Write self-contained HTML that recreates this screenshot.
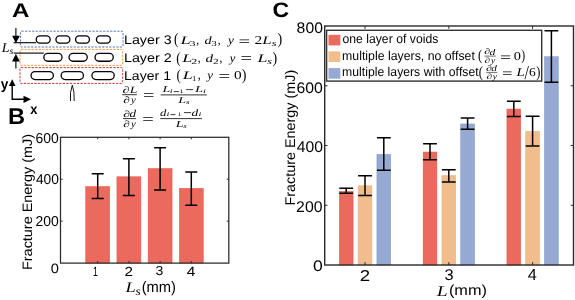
<!DOCTYPE html>
<html lang="en"><head><meta charset="utf-8"><title>Figure</title>
<style>
html,body{margin:0;padding:0;background:#fff;}
body{width:575px;height:300px;overflow:hidden;}
svg{display:block;}
text{white-space:pre;font-kerning:none;text-rendering:geometricPrecision;}
</style></head><body>
<svg width="575" height="300" viewBox="0 0 575 300">
<rect width="575" height="300" fill="#fff"/>
<text font-size="100" font-family='"Liberation Sans", Arial, sans-serif' fill="#000" transform="matrix(0.24147 0 0 0.19768 11.899 17.400)" font-weight="bold">A</text>
<text font-size="100" font-family='"Liberation Sans", Arial, sans-serif' fill="#000" transform="matrix(0.23612 0 0 0.22820 8.020 123.700)" font-weight="bold">B</text>
<text font-size="100" font-family='"Liberation Sans", Arial, sans-serif' fill="#000" transform="matrix(0.23095 0 0 0.20904 272.553 17.196)" font-weight="bold">C</text>
<rect x="20.4" y="31.2" width="102.60" height="15.80" rx="1" fill="none" stroke="#5f79ad" stroke-width="1" stroke-dasharray="2.3 1.25"/>
<rect x="20.0" y="49.4" width="102.70" height="15.90" rx="1" fill="none" stroke="#ee9c4a" stroke-width="1" stroke-dasharray="2.3 1.25"/>
<rect x="20.0" y="67.6" width="102.70" height="15.80" rx="1" fill="none" stroke="#c23a38" stroke-width="1" stroke-dasharray="2.3 1.25"/>
<rect x="36.25" y="35.95" width="13.90" height="7.20" rx="3.60" fill="#fff" stroke="#000" stroke-width="1.3"/>
<rect x="55.95" y="35.95" width="13.90" height="7.20" rx="3.60" fill="#fff" stroke="#000" stroke-width="1.3"/>
<rect x="75.55" y="35.95" width="13.90" height="7.20" rx="3.60" fill="#fff" stroke="#000" stroke-width="1.3"/>
<rect x="96.45" y="35.95" width="13.90" height="7.20" rx="3.60" fill="#fff" stroke="#000" stroke-width="1.3"/>
<rect x="43.85" y="53.35" width="18.20" height="7.90" rx="3.95" fill="#fff" stroke="#000" stroke-width="1.3"/>
<rect x="69.05" y="53.35" width="18.20" height="7.90" rx="3.95" fill="#fff" stroke="#000" stroke-width="1.3"/>
<rect x="95.05" y="53.35" width="18.20" height="7.90" rx="3.95" fill="#fff" stroke="#000" stroke-width="1.3"/>
<rect x="31.05" y="71.65" width="22.30" height="7.90" rx="3.95" fill="#fff" stroke="#000" stroke-width="1.3"/>
<rect x="61.15" y="71.65" width="22.30" height="7.90" rx="3.95" fill="#fff" stroke="#000" stroke-width="1.3"/>
<rect x="91.95" y="71.65" width="22.30" height="7.90" rx="3.95" fill="#fff" stroke="#000" stroke-width="1.3"/>
<g stroke="#000" stroke-width="1.1" fill="none">
<path d="M15.9 28V37"/><path d="M13.6 42.7H36.2"/>
<path d="M15.9 68.5V60"/><path d="M13.6 53.1H43.8"/>
</g>
<path d="M12.1 35.8H19.8L15.9 43.2Z" fill="#000"/>
<path d="M12.1 61.6H19.8L15.9 53.8Z" fill="#000"/>
<text font-size="100" font-family='"Liberation Serif", "DejaVu Serif", serif' fill="#000" transform="matrix(0.14025 0 0 0.13592 1.764 51.500)" font-style="italic">L</text>
<text font-size="100" font-family='"Liberation Serif", "DejaVu Serif", serif' fill="#000" transform="matrix(0.09807 0 0 0.09356 9.480 54.009)" font-style="italic">s</text>
<path d="M12.2 86V99.3H24" stroke="#000" stroke-width="1.4" fill="none"/>
<path d="M8.9 86H15.6L12.2 79.2Z" fill="#000"/>
<path d="M23.5 95.8V103L31 99.3Z" fill="#000"/>
<text font-size="100" font-family='"Liberation Sans", Arial, sans-serif' fill="#000" transform="matrix(0.13629 0 0 0.14677 0.794 89.354)" font-weight="bold">y</text>
<text font-size="100" font-family='"Liberation Sans", Arial, sans-serif' fill="#000" transform="matrix(0.12915 0 0 0.14385 30.312 113.600)" font-weight="bold">x</text>
<path d="M70.5 101V92.6L72.3 85.2L73.9 92.2L74.2 101" fill="none" stroke="#000" stroke-width="0.9" stroke-linejoin="miter"/>
<text font-size="100" font-family='"Liberation Sans", Arial, sans-serif' fill="#000" transform="matrix(0.14301 0 0 0.12460 123.927 43.800)">Layer 3</text>
<text font-size="100" font-family='"Liberation Sans", Arial, sans-serif' fill="#000" transform="matrix(0.14330 0 0 0.12460 123.925 62.400)">Layer 2</text>
<text font-size="100" font-family='"Liberation Sans", Arial, sans-serif' fill="#000" transform="matrix(0.14105 0 0 0.12646 123.943 79.500)">Layer 1</text>
<text font-size="100" font-family='"Liberation Serif", "DejaVu Serif", serif' fill="#000" transform="matrix(0.13238 0 0 0.15881 174.118 44.219)">(</text>
<text font-size="100" font-family='"Liberation Serif", "DejaVu Serif", serif' fill="#000" transform="matrix(0.18444 0 0 0.11607 180.416 43.700)" font-style="italic">L</text>
<text font-size="100" font-family='"Liberation Serif", "DejaVu Serif", serif' fill="#000" transform="matrix(0.11378 0 0 0.07740 189.856 45.624)">3</text>
<text font-size="100" font-family='"Liberation Serif", "DejaVu Serif", serif' fill="#000" transform="matrix(0.11415 0 0 0.13238 196.165 43.764)">,</text>
<text font-size="100" font-family='"Liberation Serif", "DejaVu Serif", serif' fill="#000" transform="matrix(0.14402 0 0 0.11362 204.564 43.683)" font-style="italic">d</text>
<text font-size="100" font-family='"Liberation Serif", "DejaVu Serif", serif' fill="#000" transform="matrix(0.11136 0 0 0.07740 211.367 45.624)">3</text>
<text font-size="100" font-family='"Liberation Serif", "DejaVu Serif", serif' fill="#000" transform="matrix(0.11415 0 0 0.13238 217.865 43.764)">,</text>
<text font-size="100" font-family='"Liberation Serif", "DejaVu Serif", serif' fill="#000" transform="matrix(0.13262 0 0 0.11855 228.007 43.841)" font-style="italic">y</text>
<text font-size="100" font-family='"Liberation Serif", "DejaVu Serif", serif' fill="#000" transform="matrix(0.20630 0 0 0.14400 238.573 45.581)">=</text>
<text font-size="100" font-family='"Liberation Serif", "DejaVu Serif", serif' fill="#000" transform="matrix(0.15466 0 0 0.12083 254.620 43.700)">2</text>
<text font-size="100" font-family='"Liberation Serif", "DejaVu Serif", serif' fill="#000" transform="matrix(0.16907 0 0 0.11607 262.298 43.700)" font-style="italic">L</text>
<text font-size="100" font-family='"Liberation Serif", "DejaVu Serif", serif' fill="#000" transform="matrix(0.12692 0 0 0.08525 271.845 45.617)" font-style="italic">s</text>
<text font-size="100" font-family='"Liberation Serif", "DejaVu Serif", serif' fill="#000" transform="matrix(0.14017 0 0 0.15881 277.548 44.219)">)</text>
<text font-size="100" font-family='"Liberation Serif", "DejaVu Serif", serif' fill="#000" transform="matrix(0.13238 0 0 0.15661 176.218 62.866)">(</text>
<text font-size="100" font-family='"Liberation Serif", "DejaVu Serif", serif' fill="#000" transform="matrix(0.18059 0 0 0.11454 182.212 62.300)" font-style="italic">L</text>
<text font-size="100" font-family='"Liberation Serif", "DejaVu Serif", serif' fill="#000" transform="matrix(0.11974 0 0 0.07854 191.274 64.400)">2</text>
<text font-size="100" font-family='"Liberation Serif", "DejaVu Serif", serif' fill="#000" transform="matrix(0.11415 0 0 0.14017 197.765 62.444)">,</text>
<text font-size="100" font-family='"Liberation Serif", "DejaVu Serif", serif' fill="#000" transform="matrix(0.15249 0 0 0.11362 205.538 62.283)" font-style="italic">d</text>
<text font-size="100" font-family='"Liberation Serif", "DejaVu Serif", serif' fill="#000" transform="matrix(0.11475 0 0 0.07854 213.096 64.400)">2</text>
<text font-size="100" font-family='"Liberation Serif", "DejaVu Serif", serif' fill="#000" transform="matrix(0.11415 0 0 0.14017 219.465 62.444)">,</text>
<text font-size="100" font-family='"Liberation Serif", "DejaVu Serif", serif' fill="#000" transform="matrix(0.12693 0 0 0.12003 229.760 62.309)" font-style="italic">y</text>
<text font-size="100" font-family='"Liberation Serif", "DejaVu Serif", serif' fill="#000" transform="matrix(0.20630 0 0 0.14800 240.473 63.364)">=</text>
<text font-size="100" font-family='"Liberation Serif", "DejaVu Serif", serif' fill="#000" transform="matrix(0.18059 0 0 0.11454 257.612 62.100)" font-style="italic">L</text>
<text font-size="100" font-family='"Liberation Serif", "DejaVu Serif", serif' fill="#000" transform="matrix(0.12115 0 0 0.08733 267.252 64.315)" font-style="italic">s</text>
<text font-size="100" font-family='"Liberation Serif", "DejaVu Serif", serif' fill="#000" transform="matrix(0.14017 0 0 0.15881 272.548 62.619)">)</text>
<text font-size="100" font-family='"Liberation Serif", "DejaVu Serif", serif' fill="#000" transform="matrix(0.13238 0 0 0.15661 176.518 79.666)">(</text>
<text font-size="100" font-family='"Liberation Serif", "DejaVu Serif", serif' fill="#000" transform="matrix(0.17867 0 0 0.11454 182.809 79.300)" font-style="italic">L</text>
<text font-size="100" font-family='"Liberation Serif", "DejaVu Serif", serif' fill="#000" transform="matrix(0.08521 0 0 0.07725 192.051 81.200)">1</text>
<text font-size="100" font-family='"Liberation Serif", "DejaVu Serif", serif' fill="#000" transform="matrix(0.11415 0 0 0.14406 197.765 79.484)">,</text>
<text font-size="100" font-family='"Liberation Serif", "DejaVu Serif", serif' fill="#000" transform="matrix(0.12883 0 0 0.11855 207.276 79.241)" font-style="italic">y</text>
<text font-size="100" font-family='"Liberation Serif", "DejaVu Serif", serif' fill="#000" transform="matrix(0.20845 0 0 0.14800 218.462 80.664)">=</text>
<text font-size="100" font-family='"Liberation Serif", "DejaVu Serif", serif' fill="#000" transform="matrix(0.15336 0 0 0.12003 233.916 79.383)">0</text>
<text font-size="100" font-family='"Liberation Serif", "DejaVu Serif", serif' fill="#000" transform="matrix(0.14017 0 0 0.15881 241.648 79.519)">)</text>
<text font-size="100" font-family='"Liberation Serif", "DejaVu Serif", serif' fill="#000" transform="matrix(0.14288 0 0 0.09396 122.526 93.276)" font-style="italic">∂</text>
<text font-size="100" font-family='"Liberation Serif", "DejaVu Serif", serif' fill="#000" transform="matrix(0.13833 0 0 0.09621 129.762 93.400)" font-style="italic">L</text>
<path d="M122.2 94.7H136.9" stroke="#111" stroke-width="0.85" fill="none"/>
<text font-size="100" font-family='"Liberation Serif", "DejaVu Serif", serif' fill="#000" transform="matrix(0.13336 0 0 0.09260 123.257 103.478)" font-style="italic">∂</text>
<text font-size="100" font-family='"Liberation Serif", "DejaVu Serif", serif' fill="#000" transform="matrix(0.10799 0 0 0.09781 130.902 103.489)" font-style="italic">y</text>
<text font-size="100" font-family='"Liberation Serif", "DejaVu Serif", serif' fill="#000" transform="matrix(0.20201 0 0 0.14800 143.094 99.864)">=</text>
<path d="M160.6 94.9H206.9" stroke="#111" stroke-width="0.85" fill="none"/>
<text font-size="100" font-family='"Liberation Serif", "DejaVu Serif", serif' fill="#000" transform="matrix(0.13833 0 0 0.08705 162.462 92.200)" font-style="italic">L</text>
<text font-size="100" font-family='"Liberation Serif", "DejaVu Serif", serif' fill="#000" transform="matrix(0.10422 0 0 0.06192 169.820 93.000)" font-style="italic">i</text>
<text font-size="100" font-family='"Liberation Serif", "DejaVu Serif", serif' fill="#000" transform="matrix(0.10960 0 0 0.16063 173.154 96.733)">−</text>
<text font-size="100" font-family='"Liberation Serif", "DejaVu Serif", serif' fill="#000" transform="matrix(0.07953 0 0 0.05453 179.601 93.000)">1</text>
<text font-size="100" font-family='"Liberation Serif", "DejaVu Serif", serif' fill="#000" transform="matrix(0.14613 0 0 0.16063 185.572 94.533)">−</text>
<text font-size="100" font-family='"Liberation Serif", "DejaVu Serif", serif' fill="#000" transform="matrix(0.14601 0 0 0.08705 194.971 92.200)" font-style="italic">L</text>
<text font-size="100" font-family='"Liberation Serif", "DejaVu Serif", serif' fill="#000" transform="matrix(0.10422 0 0 0.06192 202.920 93.000)" font-style="italic">i</text>
<text font-size="100" font-family='"Liberation Serif", "DejaVu Serif", serif' fill="#000" transform="matrix(0.14025 0 0 0.08858 178.264 103.000)" font-style="italic">L</text>
<text font-size="100" font-family='"Liberation Serif", "DejaVu Serif", serif' fill="#000" transform="matrix(0.08942 0 0 0.06445 185.991 104.437)" font-style="italic">s</text>
<text font-size="100" font-family='"Liberation Serif", "DejaVu Serif", serif' fill="#000" transform="matrix(0.13812 0 0 0.09123 123.241 116.880)" font-style="italic">∂</text>
<text font-size="100" font-family='"Liberation Serif", "DejaVu Serif", serif' fill="#000" transform="matrix(0.13131 0 0 0.10368 129.402 116.894)" font-style="italic">d</text>
<path d="M123.0 118.6H136.1" stroke="#111" stroke-width="0.85" fill="none"/>
<text font-size="100" font-family='"Liberation Serif", "DejaVu Serif", serif' fill="#000" transform="matrix(0.13336 0 0 0.09123 123.257 127.380)" font-style="italic">∂</text>
<text font-size="100" font-family='"Liberation Serif", "DejaVu Serif", serif' fill="#000" transform="matrix(0.10799 0 0 0.10077 130.902 127.425)" font-style="italic">y</text>
<text font-size="100" font-family='"Liberation Serif", "DejaVu Serif", serif' fill="#000" transform="matrix(0.20416 0 0 0.14800 142.183 123.864)">=</text>
<path d="M160.2 118.6H201.9" stroke="#111" stroke-width="0.85" fill="none"/>
<text font-size="100" font-family='"Liberation Serif", "DejaVu Serif", serif' fill="#000" transform="matrix(0.12707 0 0 0.09800 160.015 115.500)" font-style="italic">d</text>
<text font-size="100" font-family='"Liberation Serif", "DejaVu Serif", serif' fill="#000" transform="matrix(0.10422 0 0 0.06192 166.420 116.300)" font-style="italic">i</text>
<text font-size="100" font-family='"Liberation Serif", "DejaVu Serif", serif' fill="#000" transform="matrix(0.10530 0 0 0.16063 169.876 120.333)">−</text>
<text font-size="100" font-family='"Liberation Serif", "DejaVu Serif", serif' fill="#000" transform="matrix(0.07385 0 0 0.05150 177.751 116.300)">1</text>
<text font-size="100" font-family='"Liberation Serif", "DejaVu Serif", serif' fill="#000" transform="matrix(0.15043 0 0 0.16063 183.251 117.933)">−</text>
<text font-size="100" font-family='"Liberation Serif", "DejaVu Serif", serif' fill="#000" transform="matrix(0.13343 0 0 0.09800 191.596 115.500)" font-style="italic">d</text>
<text font-size="100" font-family='"Liberation Serif", "DejaVu Serif", serif' fill="#000" transform="matrix(0.10422 0 0 0.06192 198.420 116.300)" font-style="italic">i</text>
<text font-size="100" font-family='"Liberation Serif", "DejaVu Serif", serif' fill="#000" transform="matrix(0.14025 0 0 0.09163 175.764 127.200)" font-style="italic">L</text>
<text font-size="100" font-family='"Liberation Serif", "DejaVu Serif", serif' fill="#000" transform="matrix(0.08654 0 0 0.06445 183.194 128.437)" font-style="italic">s</text>
<rect x="85.75" y="186.66" width="23.9" height="76.44" fill="#EA6A5E" stroke="#E25B4E" stroke-width="0.6"/>
<rect x="116.95" y="176.81" width="23.9" height="86.29" fill="#EA6A5E" stroke="#E25B4E" stroke-width="0.6"/>
<rect x="148.15" y="168.63" width="23.9" height="94.47" fill="#EA6A5E" stroke="#E25B4E" stroke-width="0.6"/>
<rect x="179.35" y="188.34" width="23.9" height="74.76" fill="#EA6A5E" stroke="#E25B4E" stroke-width="0.6"/>
<rect x="60.5" y="137.3" width="168.30" height="125.80" fill="none" stroke="#2a2a2a" stroke-width="1.25"/>
<path d="M97.7 263.1v-2M97.7 137.3v2M128.9 263.1v-2M128.9 137.3v2M160.1 263.1v-2M160.1 137.3v2M191.3 263.1v-2M191.3 137.3v2M60.5 221.17h2M228.8 221.17h-2M60.5 179.23h2M228.8 179.23h-2" stroke="#2a2a2a" stroke-width="1" fill="none"/>
<path d="M97.7 198.52V173.78M91.7 198.52h12.0M91.7 173.78h12.0" stroke="#000" stroke-width="1.5" fill="none"/>
<path d="M128.9 195.59V158.69M122.9 195.59h12.0M122.9 158.69h12.0" stroke="#000" stroke-width="1.5" fill="none"/>
<path d="M160.1 189.93V147.78M154.1 189.93h12.0M154.1 147.78h12.0" stroke="#000" stroke-width="1.5" fill="none"/>
<path d="M191.3 205.23V172.10M185.3 205.23h12.0M185.3 172.10h12.0" stroke="#000" stroke-width="1.5" fill="none"/>
<text font-size="100" font-family='"Liberation Sans", Arial, sans-serif' fill="#000" transform="matrix(0.14000 0 0 0.14265 35.489 142.561)">600</text>
<text font-size="100" font-family='"Liberation Sans", Arial, sans-serif' fill="#000" transform="matrix(0.13757 0 0 0.14265 35.884 183.861)">400</text>
<text font-size="100" font-family='"Liberation Sans", Arial, sans-serif' fill="#000" transform="matrix(0.13995 0 0 0.14265 35.496 226.061)">200</text>
<text font-size="100" font-family='"Liberation Sans", Arial, sans-serif' fill="#000" transform="matrix(0.14644 0 0 0.13559 50.728 273.168)">0</text>
<text font-size="100" font-family='"Liberation Sans", Arial, sans-serif' fill="#000" transform="matrix(0.08814 0 0 0.13372 92.929 275.500)">1</text>
<text font-size="100" font-family='"Liberation Sans", Arial, sans-serif' fill="#000" transform="matrix(0.15365 0 0 0.13176 124.427 275.500)">2</text>
<text font-size="100" font-family='"Liberation Sans", Arial, sans-serif' fill="#000" transform="matrix(0.13920 0 0 0.12994 155.470 275.373)">3</text>
<text font-size="100" font-family='"Liberation Sans", Arial, sans-serif' fill="#000" transform="matrix(0.15479 0 0 0.13372 186.645 275.500)">4</text>
<text font-size="100" font-family='"Liberation Sans", Arial, sans-serif' fill="#000" transform="translate(31.900 269.982) rotate(-90) scale(0.14405 0.13663)">Fracture Energy (mJ)</text>
<text font-size="100" font-family='"Liberation Serif", "DejaVu Serif", serif' fill="#000" transform="matrix(0.18444 0 0 0.14509 125.416 292.300)" font-style="italic">L</text>
<text font-size="100" font-family='"Liberation Serif", "DejaVu Serif", serif' fill="#000" transform="matrix(0.13269 0 0 0.11851 135.538 295.184)" font-style="italic">s</text>
<text font-size="100" font-family='"Liberation Sans", Arial, sans-serif' fill="#000" transform="matrix(0.14719 0 0 0.15349 141.687 292.122)">(mm)</text>
<rect x="339.35" y="191.51" width="13.700000000000001" height="73.49" fill="#EA6A5E" stroke="#E25B4E" stroke-width="0.6"/>
<rect x="358.15" y="185.83" width="13.700000000000001" height="79.17" fill="#F1BD8D" stroke="#EBB07E" stroke-width="0.6"/>
<rect x="376.95" y="154.46" width="13.700000000000001" height="110.54" fill="#96A9D3" stroke="#8199C9" stroke-width="0.6"/>
<rect x="423.15" y="152.07" width="13.700000000000001" height="112.93" fill="#EA6A5E" stroke="#E25B4E" stroke-width="0.6"/>
<rect x="441.95" y="175.68" width="13.700000000000001" height="89.33" fill="#F1BD8D" stroke="#EBB07E" stroke-width="0.6"/>
<rect x="460.75" y="123.99" width="13.700000000000001" height="141.01" fill="#96A9D3" stroke="#8199C9" stroke-width="0.6"/>
<rect x="506.95" y="109.05" width="13.700000000000001" height="155.95" fill="#EA6A5E" stroke="#E25B4E" stroke-width="0.6"/>
<rect x="525.75" y="131.46" width="13.700000000000001" height="133.54" fill="#F1BD8D" stroke="#EBB07E" stroke-width="0.6"/>
<rect x="544.55" y="56.77" width="13.700000000000001" height="208.23" fill="#96A9D3" stroke="#8199C9" stroke-width="0.6"/>
<rect x="324.7" y="26.0" width="248.80" height="239.00" fill="none" stroke="#2a2a2a" stroke-width="1.4"/>
<path d="M365.0 265.0v-2.8M365.0 26.0v2.8M448.8 265.0v-2.8M448.8 26.0v2.8M532.6 265.0v-2.8M532.6 26.0v2.8M324.7 205.25h2.8M573.5 205.25h-2.8M324.7 145.50h2.8M573.5 145.50h-2.8M324.7 85.75h2.8M573.5 85.75h-2.8" stroke="#2a2a2a" stroke-width="1" fill="none"/>
<path d="M346.2 193.30V188.22M339.3 193.30h13.8M339.3 188.22h13.8" stroke="#000" stroke-width="1.5" fill="none"/>
<path d="M365.0 195.39V175.67M358.1 195.39h13.8M358.1 175.67h13.8" stroke="#000" stroke-width="1.5" fill="none"/>
<path d="M383.8 170.30V137.73M376.90000000000003 170.30h13.8M376.90000000000003 137.73h13.8" stroke="#000" stroke-width="1.5" fill="none"/>
<path d="M430.0 159.84V143.71M423.1 159.84h13.8M423.1 143.71h13.8" stroke="#000" stroke-width="1.5" fill="none"/>
<path d="M448.8 181.95V169.70M441.90000000000003 181.95h13.8M441.90000000000003 169.70h13.8" stroke="#000" stroke-width="1.5" fill="none"/>
<path d="M467.6 129.37V118.01M460.70000000000005 129.37h13.8M460.70000000000005 118.01h13.8" stroke="#000" stroke-width="1.5" fill="none"/>
<path d="M513.8000000000001 116.52V101.28M506.9000000000001 116.52h13.8M506.9000000000001 101.28h13.8" stroke="#000" stroke-width="1.5" fill="none"/>
<path d="M532.6 146.10V116.22M525.7 146.10h13.8M525.7 116.22h13.8" stroke="#000" stroke-width="1.5" fill="none"/>
<path d="M551.4 82.16V30.78M544.5 82.16h13.8M544.5 30.78h13.8" stroke="#000" stroke-width="1.5" fill="none"/>
<rect x="326.6" y="30.3" width="215.10" height="50.80" fill="#fff" stroke="#333" stroke-width="1.4"/>
<rect x="328.5" y="34.8" width="11.8" height="10.6" fill="#EA6A5E"/>
<rect x="328.5" y="51.4" width="11.8" height="10.6" fill="#F1BD8D"/>
<rect x="328.5" y="68.1" width="11.8" height="10.6" fill="#96A9D3"/>
<text font-size="100" font-family='"Liberation Sans", Arial, sans-serif' fill="#000" transform="matrix(0.12243 0 0 0.12835 342.386 42.900)">one layer of voids</text>
<text font-size="100" font-family='"Liberation Sans", Arial, sans-serif' fill="#000" transform="matrix(0.12317 0 0 0.12835 342.082 59.600)">multiple layers, no offset</text>
<text font-size="100" font-family='"Liberation Sans", Arial, sans-serif' fill="#000" transform="matrix(0.12228 0 0 0.12835 342.088 76.200)">multiple layers with offset</text>
<text font-size="100" font-family='"Liberation Serif", "DejaVu Serif", serif' fill="#000" transform="matrix(0.12459 0 0 0.15219 478.052 60.160)">(</text>
<text font-size="100" font-family='"Liberation Serif", "DejaVu Serif", serif' fill="#000" transform="matrix(0.11907 0 0 0.07898 484.205 54.496)" font-style="italic">∂</text>
<text font-size="100" font-family='"Liberation Serif", "DejaVu Serif", serif' fill="#000" transform="matrix(0.11648 0 0 0.08806 489.547 54.510)" font-style="italic">d</text>
<path d="M484.4 56.1H495.9" stroke="#111" stroke-width="0.6" fill="none"/>
<text font-size="100" font-family='"Liberation Serif", "DejaVu Serif", serif' fill="#000" transform="matrix(0.11431 0 0 0.07626 484.620 62.899)" font-style="italic">∂</text>
<text font-size="100" font-family='"Liberation Serif", "DejaVu Serif", serif' fill="#000" transform="matrix(0.09473 0 0 0.08299 490.991 62.809)" font-style="italic">y</text>
<text font-size="100" font-family='"Liberation Serif", "DejaVu Serif", serif' fill="#000" transform="matrix(0.19771 0 0 0.14400 500.015 61.581)">=</text>
<text font-size="100" font-family='"Liberation Serif", "DejaVu Serif", serif' fill="#000" transform="matrix(0.14393 0 0 0.12152 513.852 59.681)">0</text>
<text font-size="100" font-family='"Liberation Serif", "DejaVu Serif", serif' fill="#000" transform="matrix(0.11681 0 0 0.15219 521.224 60.160)">)</text>
<text font-size="100" font-family='"Liberation Serif", "DejaVu Serif", serif' fill="#000" transform="matrix(0.12459 0 0 0.15440 478.852 76.713)">(</text>
<text font-size="100" font-family='"Liberation Serif", "DejaVu Serif", serif' fill="#000" transform="matrix(0.11907 0 0 0.07898 486.005 70.896)" font-style="italic">∂</text>
<text font-size="100" font-family='"Liberation Serif", "DejaVu Serif", serif' fill="#000" transform="matrix(0.11225 0 0 0.08806 491.360 70.910)" font-style="italic">d</text>
<path d="M486.3 72.4H497.3" stroke="#111" stroke-width="0.6" fill="none"/>
<text font-size="100" font-family='"Liberation Serif", "DejaVu Serif", serif' fill="#000" transform="matrix(0.11431 0 0 0.07626 486.420 79.299)" font-style="italic">∂</text>
<text font-size="100" font-family='"Liberation Serif", "DejaVu Serif", serif' fill="#000" transform="matrix(0.09473 0 0 0.08299 492.791 79.209)" font-style="italic">y</text>
<text font-size="100" font-family='"Liberation Serif", "DejaVu Serif", serif' fill="#000" transform="matrix(0.18481 0 0 0.14400 501.980 77.981)">=</text>
<text font-size="100" font-family='"Liberation Serif", "DejaVu Serif", serif' fill="#000" transform="matrix(0.14793 0 0 0.11912 516.473 76.200)" font-style="italic">L</text>
<text font-size="100" font-family='"Liberation Serif", "DejaVu Serif", serif' fill="#000" transform="matrix(0.15837 0 0 0.19733 524.600 79.407)">/</text>
<text font-size="100" font-family='"Liberation Serif", "DejaVu Serif", serif' fill="#000" transform="matrix(0.13575 0 0 0.12056 529.017 76.182)">6</text>
<text font-size="100" font-family='"Liberation Serif", "DejaVu Serif", serif' fill="#000" transform="matrix(0.12459 0 0 0.15440 536.198 76.713)">)</text>
<text font-size="100" font-family='"Liberation Sans", Arial, sans-serif' fill="#000" transform="matrix(0.15764 0 0 0.15254 296.615 33.251)">800</text>
<text font-size="100" font-family='"Liberation Sans", Arial, sans-serif' fill="#000" transform="matrix(0.15837 0 0 0.15254 296.496 93.251)">600</text>
<text font-size="100" font-family='"Liberation Sans", Arial, sans-serif' fill="#000" transform="matrix(0.15749 0 0 0.15537 296.839 151.848)">400</text>
<text font-size="100" font-family='"Liberation Sans", Arial, sans-serif' fill="#000" transform="matrix(0.15832 0 0 0.15537 296.104 211.648)">200</text>
<text font-size="100" font-family='"Liberation Sans", Arial, sans-serif' fill="#000" transform="matrix(0.17572 0 0 0.15254 312.914 271.251)">0</text>
<text font-size="100" font-family='"Liberation Sans", Arial, sans-serif' fill="#000" transform="matrix(0.18658 0 0 0.15611 359.862 280.800)">2</text>
<text font-size="100" font-family='"Liberation Sans", Arial, sans-serif' fill="#000" transform="matrix(0.16451 0 0 0.15537 444.573 279.648)">3</text>
<text font-size="100" font-family='"Liberation Sans", Arial, sans-serif' fill="#000" transform="matrix(0.16273 0 0 0.15989 527.627 279.800)">4</text>
<text font-size="100" font-family='"Liberation Sans", Arial, sans-serif' fill="#000" transform="translate(295.200 205.580) rotate(-90) scale(0.14384 0.14077)">Fracture Energy (mJ)</text>
<text font-size="100" font-family='"Liberation Serif", "DejaVu Serif", serif' fill="#000" transform="matrix(0.19596 0 0 0.14814 436.830 296.000)" font-style="italic">L</text>
<text font-size="100" font-family='"Liberation Sans", Arial, sans-serif' fill="#000" transform="matrix(0.16304 0 0 0.14598 448.889 294.578)">(mm)</text>
</svg>
</body></html>
